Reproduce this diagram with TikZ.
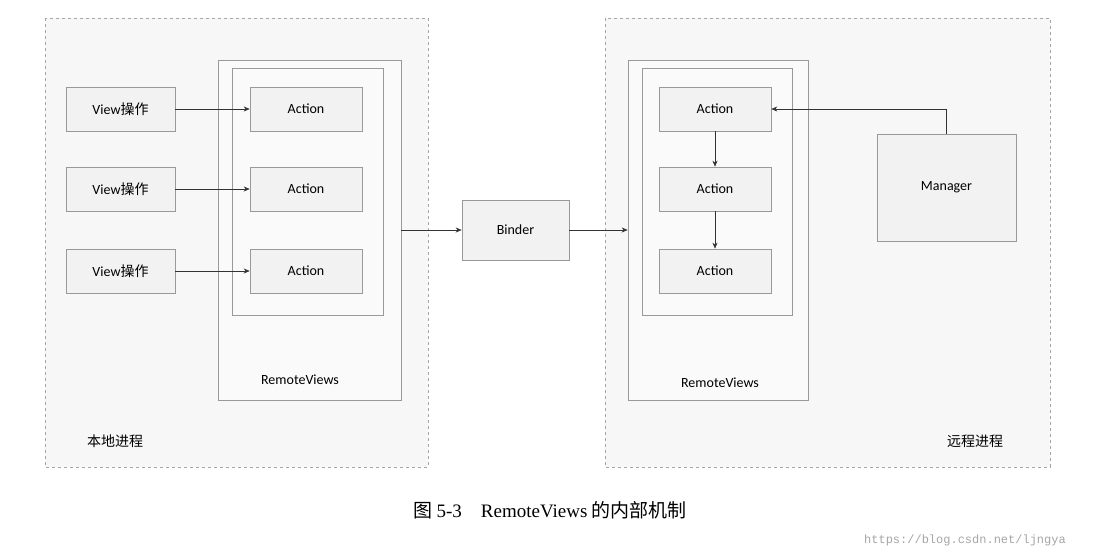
\documentclass[tikz,border=0pt]{standalone}
\usepackage{fontspec}
\setmainfont{Carlito}
\newfontfamily\cjk{Noto Sans CJK SC}
\newfontfamily\capfont{Liberation Serif}
\newfontfamily\mono{Liberation Mono}
\usetikzlibrary{arrows.meta}
\begin{document}
\begin{tikzpicture}[x=1pt,y=-1pt,
  proc/.style={draw=gray!70,dashed,fill=gray!6},
  box/.style={draw=gray!80,fill=gray!4,line width=0.6pt},
  act/.style={draw=gray!80,fill=gray!10,line width=0.6pt,minimum width=112pt,minimum height=44pt,font=\fontsize{14}{16}\selectfont},
  arr/.style={-{Stealth[length=6pt,width=5pt]},line width=0.6pt,draw=black!80},
  every node/.style={inner sep=0pt}]
\useasboundingbox (0,0) rectangle (1119,558);
\fill[white] (0,0) rectangle (1119,558);
\draw[proc] (45,18) rectangle (428,467);
\draw[proc] (605,18) rectangle (1050,467);
% left remoteviews
\node[box,minimum width=183pt,minimum height=340pt] (lrv) at (309.5,230) {};
\node[box,minimum width=151pt,minimum height=247pt] (lrvi) at (307.5,191.5) {};
\node[font=\fontsize{14}{16}\selectfont] (lrvl) at (300,380) {RemoteViews};
\foreach \i/\y in {1/109,2/189,3/271}{
  \node[act] (la\i) at (306,\y) {Action};
  \node[act,minimum width=109pt] (v\i) at (120.5,\y) {View{\cjk 操作}};
  \draw[arr] (v\i) -- (la\i);
}
\node[act,minimum width=107pt,minimum height=60pt] (binder) at (515.5,230) {Binder};
\node[box,minimum width=180pt,minimum height=340pt] (rrv) at (718,230) {};
\node[box,minimum width=150pt,minimum height=247pt] (rrvi) at (717,191.5) {};
\node[font=\fontsize{14}{16}\selectfont] (rrvl) at (720,383) {RemoteViews};
\foreach \i/\y in {1/109,2/189,3/271}{
  \node[act] (ra\i) at (715,\y) {Action};
}
\draw[arr] (ra1) -- (ra2);
\draw[arr] (ra2) -- (ra3);
\node[act,minimum width=139pt,minimum height=107pt] (man) at (946.5,187.5) {Manager};
\draw[arr] (man.north) |- (ra1.east);
\draw[arr] (lrv.east |- binder.west) -- (binder.west);
\draw[arr] (binder.east) -- (rrv.west |- binder.east);
\node[font=\cjk\fontsize{14}{16}\selectfont] (lp) at (115,441) {本地进程};
\node[font=\cjk\fontsize{14}{16}\selectfont] (rp) at (975,441) {远程进程};
\node[font=\fontsize{19}{22}\selectfont] (cap) at (550,510) {{\cjk 图} {\capfont 5-3\quad RemoteViews} {\cjk 的内部机制}};
\node[font=\mono\fontsize{12}{14}\selectfont,text=gray!70] (wm) at (965,540) {https://blog.csdn.net/ljngya};
\end{tikzpicture}
\end{document}
